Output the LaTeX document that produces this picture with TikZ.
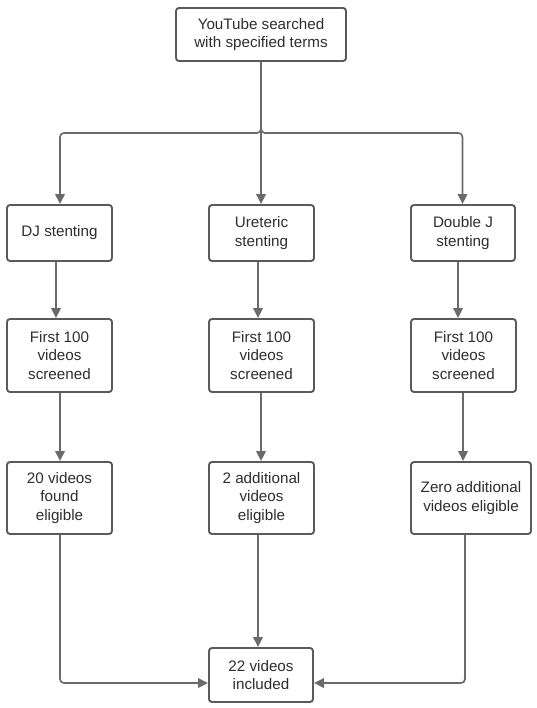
\documentclass[tikz,border=0pt]{standalone}
\usepackage{fontspec}
\setmainfont{Liberation Sans}
\usetikzlibrary{arrows.meta,calc}
\definecolor{boxline}{HTML}{5A5A5A}
\definecolor{conline}{HTML}{6A6A6A}
\definecolor{txt}{HTML}{2E2E2E}
\begin{document}
\begin{tikzpicture}[x=1pt,y=-1pt,
  box/.style={draw=boxline, line width=1.9pt, rounded corners=3pt, fill=white,
    inner sep=0pt, align=center, text=txt,
    font=\fontsize{15.2}{18.4}\selectfont},
  conn/.style={draw=conline, line width=1.7pt, rounded corners=4pt},
  arr/.style={conn, -{Triangle[length=10pt,width=9.5pt]}}]
\useasboundingbox (0,0) rectangle (536,708);
% top
\node[box, minimum width=170pt, minimum height=53pt] (top) at (261,34.5) {YouTube searched\\with specified terms};
% row 1
\node[box, minimum width=105pt, minimum height=56pt] (a1) at (59.5,233) {DJ stenting};
\node[box, minimum width=105pt, minimum height=56pt] (b1) at (261.5,233) {Ureteric\\stenting};
\node[box, minimum width=104pt, minimum height=56pt] (c1) at (463,233) {Double J\\stenting};
% row 2
\node[box, minimum width=105pt, minimum height=73pt] (a2) at (59.5,355.5) {First 100\\videos\\screened};
\node[box, minimum width=105pt, minimum height=73pt] (b2) at (261.5,355.5) {First 100\\videos\\screened};
\node[box, minimum width=105pt, minimum height=73pt] (c2) at (463.5,355.5) {First 100\\videos\\screened};
% row 3
\node[box, minimum width=105pt, minimum height=72pt] (a3) at (59.5,498) {20 videos\\found\\eligible};
\node[box, minimum width=105pt, minimum height=72pt] (b3) at (261.5,498) {2 additional\\videos\\eligible};
\node[box, minimum width=120pt, minimum height=72pt] (c3) at (471,498) {Zero additional\\videos eligible};
% bottom
\node[box, minimum width=104pt, minimum height=54pt] (fin) at (261,675) {22 videos\\included};
% bus
\coordinate (bus) at (261,133);
\draw[arr] (top.south) -- (bus) -| ([xshift=0.5pt]a1.north);
\draw[arr] (top.south) -- (bus) -| ([xshift=-0.5pt]c1.north);
\draw[arr] (top.south) -- ([xshift=-0.5pt]b1.north);
% left column
\draw[arr] ([xshift=-3.5pt]a1.south) -- ([xshift=-3.5pt]a2.north);
\draw[arr] ([xshift=0.5pt]a2.south) -- ([xshift=0.5pt]a3.north);
\draw[arr] ([xshift=0.5pt]a3.south) |- ([yshift=-8pt]fin.west);
% middle column
\draw[arr] ([xshift=-3.5pt]b1.south) -- ([xshift=-3.5pt]b2.north);
\draw[arr] ([xshift=-0.5pt]b2.south) -- ([xshift=-0.5pt]b3.north);
\draw[arr] ([xshift=-3.5pt]b3.south) -- ([xshift=-3pt]fin.north);
% right column
\draw[arr] ([xshift=-5pt]c1.south) -- ([xshift=-5.5pt]c2.north);
\draw[arr] ([xshift=-0.5pt]c2.south) -- ([xshift=-8pt]c3.north);
\draw[arr] ([xshift=-6pt]c3.south) |- ([yshift=-8pt]fin.east);
\end{tikzpicture}
\end{document}
